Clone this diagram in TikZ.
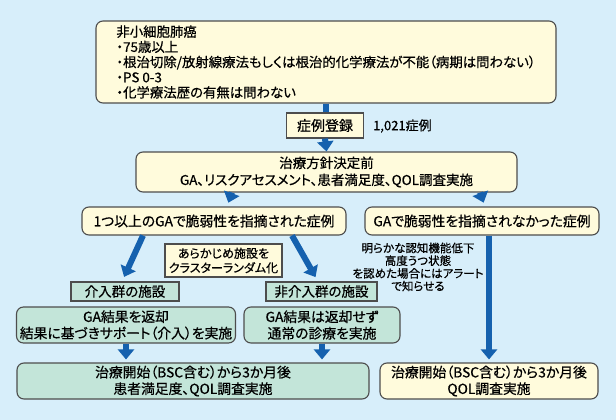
\documentclass[tikz,border=0pt]{standalone}
\usepackage{fontspec}
\setmainfont{Noto Sans CJK JP}[RawFeature=+palt, FakeBold=0.6]
\usetikzlibrary{arrows.meta,calc}

\definecolor{bgblue}{HTML}{D7EEFA}
\definecolor{cream}{HTML}{FFFBDC}
\definecolor{mint}{HTML}{C3E5D9}
\definecolor{flowblue}{HTML}{1561AE}
\definecolor{edge}{HTML}{4D4D4D}

\tikzset{
  roundbox/.style={draw=edge, line width=1.1pt, rounded corners=7pt, inner sep=0pt,
    align=center, font=\fontsize{13.8}{16.5}\selectfont},
  creambox/.style={roundbox, fill=cream},
  mintbox/.style={roundbox, fill=mint},
  tagbox/.style={draw=edge, line width=1.1pt, inner sep=0pt, align=center,
    font=\fontsize{13.5}{15}\selectfont},
  flow/.style={draw=flowblue, line width=6pt, -{Triangle[width=16pt,length=10pt]}},
  bar/.style={draw=flowblue, line width=6pt},
}

\begin{document}
\begin{tikzpicture}[x=1pt,y=-1pt]
  \fill[bgblue] (0,0) rectangle (616,420);
  \useasboundingbox (0,0) rectangle (616,420);

  % eligibility
  \node[creambox, minimum width=460, minimum height=82, align=left,
        font=\fontsize{13.4}{15.2}\selectfont] (crit) at (326,62)
    {非小細胞肺癌\\・75歳以上\\・根治切除/放射線療法もしくは根治的化学療法が不能（病期は問わない）\\・PS 0-3\\・化学療法歴の有無は問わない};

  \node[tagbox, fill=cream, minimum width=77, minimum height=25,
        font=\fontsize{14}{15}\selectfont] (reg) at (325,125.5) {症例登録};
  \node[anchor=west, inner sep=0pt, font=\fontsize{13}{14}\selectfont] (count) at (373,126) {1,021症例};

  \node[creambox, minimum width=381, minimum height=40,
        font=\fontsize{13.5}{17}\selectfont] (plan) at (326.5,172)
    {治療方針決定前\\GA、リスクアセスメント、患者満足度、QOL調査実施};

  % split by GA
  \node[creambox, minimum width=264, minimum height=28] (frail) at (214,221)
    {1つ以上のGAで脆弱性を指摘された症例};
  \node[creambox, minimum width=234, minimum height=28] (nofrail) at (482,221)
    {GAで脆弱性を指摘されなかった症例};

  \node[tagbox, fill=cream, minimum width=117, minimum height=33,
        font=\fontsize{12}{14.5}\selectfont] (cluster) at (223.5,260.5)
    {あらかじめ施設を\\クラスターランダム化};
  \node[align=center, inner sep=0pt, font=\fontsize{11.5}{12.7}\selectfont] (alert) at (418,267)
    {明らかな認知機能低下\\高度うつ状態\\を認めた場合にはアラート\\で知らせる};

  % arms
  \node[tagbox, fill=mint, minimum width=108, minimum height=19] (inttag) at (125,291.5) {介入群の施設};
  \node[tagbox, fill=mint, minimum width=111, minimum height=19] (ctltag) at (321.5,291.5) {非介入群の施設};

  \node[mintbox, minimum width=219, minimum height=36] (intact) at (126,325)
    {GA結果を返却\\結果に基づきサポート（介入）を実施};
  \node[mintbox, minimum width=156, minimum height=36] (ctlact) at (322,325)
    {GA結果は返却せず\\通常の診療を実施};

  \node[mintbox, minimum width=352, minimum height=36] (outL) at (193,381)
    {治療開始（BSC含む）から3か月後\\患者満足度、QOL調査実施};
  \node[creambox, minimum width=218, minimum height=36] (outR) at (489,381)
    {治療開始（BSC含む）から3か月後\\QOL調査実施};

  % connectors
  \draw[bar] (crit.south) -- (crit.south |- reg.north);
  \draw[flow] (reg.south) -- (plan.north);
  \draw[flow, shorten >=4pt] ($(plan.south)+(-94.5,0)$) -- ($(frail.north)+(13,0)$);
  \draw[flow, shorten >=4pt] ($(plan.south)+(153.5,0)$) -- ($(nofrail.north)+(3,0)$);
  \draw[flow, shorten >=5pt] ($(frail.south)+(-71,0)$) -- ($(inttag.north)+(-3,0)$);
  \draw[flow, shorten >=5pt] ($(frail.south)+(78,0)$) -- ($(ctltag.north)+(-3.5,0)$);
  \draw[flow, shorten >=3pt] (intact.south) -- (intact.south |- outL.north);
  \draw[flow, shorten >=3pt] (ctlact.south) -- (ctlact.south |- outL.north);
  \draw[flow, shorten >=3pt] ($(nofrail.south)+(7,0)$) -- (outR.north);
\end{tikzpicture}
\end{document}
